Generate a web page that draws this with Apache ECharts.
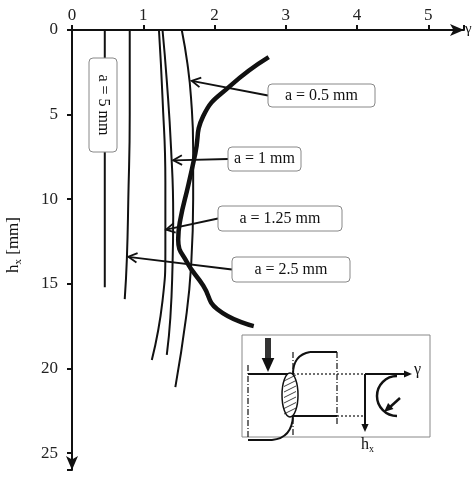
<!DOCTYPE html>
<html><head><meta charset="utf-8">
<script src="https://cdn.jsdelivr.net/npm/echarts@6/dist/echarts.min.js"></script>
<style>html,body{margin:0;padding:0;background:#fff}#c{width:474px;height:486px}</style>
</head><body><div id="c"></div>
<script>
const xTicks=[0,1,2,3,4,5];
const yTicks=[0,5,10,15,20,25];
const curveA5=[[0.46,0],[0.46,15.2]];
const curveA25=[[0.81,0],[0.81,5],[0.79,10],[0.77,13.5],[0.74,15.9]];
const curveA125=[[1.22,0],[1.27,4],[1.31,9],[1.31,13],[1.27,16],[1.12,19.5]];
const curveA1=[[1.27,0],[1.33,3],[1.39,7],[1.42,11],[1.41,14],[1.38,17],[1.33,19.2]];
const curveA05=[[1.54,0],[1.62,2],[1.67,4],[1.7,7],[1.7,10],[1.67,14],[1.6,17],[1.45,21.1]];
const thick=[[2.76,1.6],[2.22,3.3],[1.84,5.1],[1.73,7.3],[1.63,9.2],[1.52,11.2],[1.49,12.4],[1.61,13.7],[1.84,15.1],[2.04,16.5],[2.55,17.5]];
const labels=[
 {text:'a = 0.5 mm',box:[268,84,107,23],tip:[1.68,3.0]},
 {text:'a = 1 mm',box:[228,147,73,24],tip:[1.42,7.7]},
 {text:'a = 1.25 mm',box:[218,206,124,25],tip:[1.32,11.8]},
 {text:'a = 2.5 mm',box:[232,257,118,25],tip:[0.79,13.4]}
];
const F='Liberation Serif';
const chart=echarts.init(document.getElementById('c'));
function ln(data,w){return {type:'line',data:data,smooth:0.5,symbol:'none',lineStyle:{color:'#111',width:w},z:3};}
chart.setOption({
 animation:false,
 grid:{left:72,top:30,right:10,bottom:16},
 xAxis:{type:'value',position:'top',min:0,max:5.5,interval:1,
  axisLine:{lineStyle:{color:'#111',width:2},symbol:['none','arrow'],symbolSize:[9,14]},
  axisTick:{length:5,lineStyle:{color:'#111',width:2}},
  axisLabel:{fontFamily:F,fontSize:17,color:'#222',margin:6,formatter:v=>xTicks.includes(v)?String(v):''},
  splitLine:{show:false}},
 yAxis:{type:'value',inverse:true,min:0,max:26,interval:5,
  axisLine:{lineStyle:{color:'#111',width:2},symbol:['arrow','none'],symbolSize:[9,14]},
  axisTick:{length:5,lineStyle:{color:'#111',width:2}},
  axisLabel:{fontFamily:F,fontSize:17,color:'#222',margin:14,formatter:v=>yTicks.includes(v)?String(v):''},
  splitLine:{show:false}},
 series:[ln(curveA5,2),ln(curveA25,2),ln(curveA125,2),ln(curveA1,2),ln(curveA05,2),ln(thick,4.5)]
});
const g=[];
function arrowHead(x1,y1,x2,y2,s,fill){const a=Math.atan2(y2-y1,x2-x1);const w=s*0.45;
 return {type:'polygon',shape:{points:[[x2,y2],[x2-s*Math.cos(a)+w*Math.sin(a),y2-s*Math.sin(a)-w*Math.cos(a)],[x2-s*Math.cos(a)-w*Math.sin(a),y2-s*Math.sin(a)+w*Math.cos(a)]]},style:{fill:fill||'#111'},z:10};}
function openHead(x1,y1,x2,y2,s){const a=Math.atan2(y2-y1,x2-x1);const t=0.5;
 return {type:'polyline',shape:{points:[[x2-s*Math.cos(a-t),y2-s*Math.sin(a-t)],[x2,y2],[x2-s*Math.cos(a+t),y2-s*Math.sin(a+t)]]},style:{stroke:'#111',lineWidth:1.8,fill:null},z:10};}
function line(pts,w,dash){return {type:'polyline',shape:{points:pts},style:{stroke:'#111',lineWidth:w||1.5,fill:null,lineDash:dash||null},z:10};}
labels.forEach(l=>{const [bx,by,bw,bh]=l.box;const p=chart.convertToPixel({gridIndex:0},l.tip);
 g.push(line([[bx,by+bh/2],p],1.8));g.push(openHead(bx,by+bh/2,p[0],p[1],10));
 g.push({type:'rect',shape:{x:bx,y:by,width:bw,height:bh,r:4},style:{fill:'#fff',stroke:'#888',lineWidth:1},z:11});
 g.push({type:'text',x:bx+bw/2,y:by+bh/2,style:{text:l.text,font:'16px '+F,fill:'#111',align:'center',verticalAlign:'middle'},z:12});
});
g.push({type:'rect',shape:{x:89,y:58,width:28,height:94,r:4},style:{fill:'#fff',stroke:'#888',lineWidth:1},z:11});
g.push({type:'text',x:103,y:105,rotation:-Math.PI/2,style:{text:'a = 5 mm',font:'16px '+F,fill:'#111',align:'center',verticalAlign:'middle'},z:12});
// axis names
g.push({type:'text',x:465,y:29,style:{text:'γ',font:'15px '+F,fill:'#111',verticalAlign:'middle'},z:12});
g.push({type:'text',x:14,y:245,rotation:Math.PI/2,style:{text:'{a|h}{b|x}{a| [mm]}',rich:{a:{font:'17px '+F,fill:'#111'},b:{font:'11px '+F,fill:'#111',verticalAlign:'bottom',padding:[8,0,0,0]}},align:'center',verticalAlign:'middle'},z:12});
// inset
g.push({type:'rect',shape:{x:242,y:335,width:188,height:102},style:{fill:'#fff',stroke:'#888',lineWidth:1},z:9});
const dd=[6,2,1,2];
g.push(line([[248,365],[248,437]],1.2,dd));
g.push(line([[293,352],[293,437]],1.2,dd));
g.push(line([[337,352],[337,425]],1.2,dd));
g.push(line([[248,374],[293,374]],2));
g.push(line([[293,374],[365,374]],1.2,[2,2]));
g.push(line([[337,416],[365,416]],1.2,[2,2]));
g.push(line([[293,416],[337,416]],2));
g.push({type:'bezierCurve',shape:{x1:293,y1:374,x2:310,y2:352,cpx1:293,cpy1:355},style:{stroke:'#111',lineWidth:2,fill:null},z:10});
g.push(line([[310,352],[337,352]],2));
g.push({type:'bezierCurve',shape:{x1:293,y1:416,x2:272,y2:440,cpx1:292,cpy1:438},style:{stroke:'#111',lineWidth:2,fill:null},z:10});
g.push(line([[248,440],[272,440]],2));
g.push({type:'ellipse',shape:{cx:290,cy:395,rx:8,ry:22},style:{fill:'#fff',stroke:'#111',lineWidth:1.5},z:10});
for(let i=0;i<7;i++){const y=378+i*5.5;g.push(line([[284,y+3],[296,y-3]],0.8));}
g.push({type:'rect',shape:{x:265,y:338,width:6,height:20},style:{fill:'#333'},z:10});
g.push(arrowHead(268,340,268,372,14));
g.push(line([[365,374],[365,425]],2));g.push(arrowHead(365,374,365,432,8));
g.push(line([[365,374],[405,374]],2));g.push(arrowHead(365,374,412,374,8));
g.push({type:'text',x:414,y:370,style:{text:'γ',font:'16px '+F,fill:'#111',verticalAlign:'middle'},z:12});
g.push({type:'text',x:361,y:436,style:{text:'{a|h}{b|x}',rich:{a:{font:'16px '+F,fill:'#111'},b:{font:'10px '+F,fill:'#111',padding:[8,0,0,0]}}},z:12});
g.push({type:'arc',shape:{cx:397,cy:396,r:20,startAngle:Math.PI/2,endAngle:Math.PI*1.5},style:{stroke:'#111',lineWidth:2.5,fill:null},z:10});
g.push(line([[400,398],[389,408]],2.5));g.push(arrowHead(400,398,384,412,9));
chart.setOption({graphic:g});
</script></body></html>
